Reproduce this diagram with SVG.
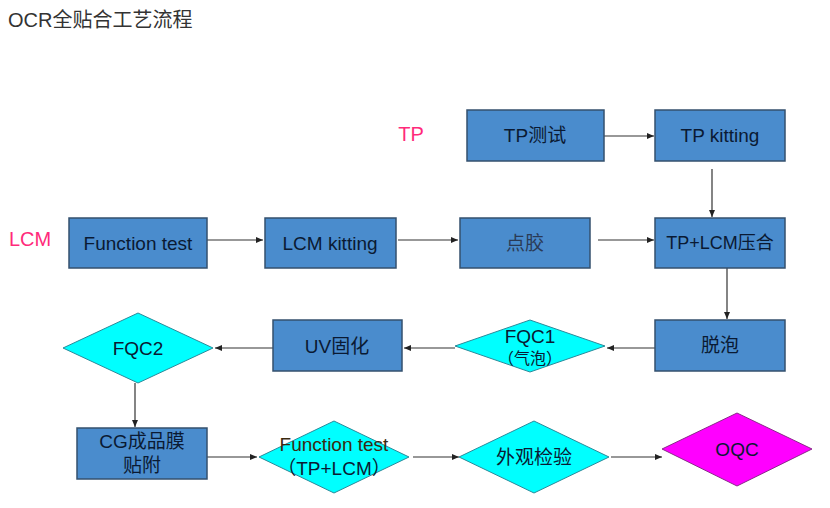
<svg xmlns="http://www.w3.org/2000/svg" width="830" height="508" viewBox="0 0 830 508">
<style>
text{font-family:"Liberation Sans","Noto Sans CJK SC",sans-serif;text-anchor:middle;dominant-baseline:central;fill:#0a1a33;font-size:19px}
.b{fill:#4a8ccd;stroke:#34506e;stroke-width:1.5}
.d{fill:#00ffff;stroke:#2a8a9a;stroke-width:1}
.m{fill:#ff00ff;stroke:#8a2a8a;stroke-width:1}
.c line{stroke:#333;stroke-width:1.2;marker-end:url(#a)}
.lab{fill:#ff2a7a;font-size:20px}
</style>
<defs><marker id="a" markerWidth="8" markerHeight="8" refX="7" refY="4" orient="auto" markerUnits="userSpaceOnUse"><path d="M0,1 L7,4 L0,7z" fill="#222"/></marker></defs>
<rect width="830" height="508" fill="#fff"/>
<text x="8" y="20" style="text-anchor:start;fill:#333;font-size:20px">OCR全贴合工艺流程</text>
<text class="lab" x="411" y="134">TP</text>
<text class="lab" x="30" y="239">LCM</text>
<g class="c">
<line x1="604" y1="136" x2="654" y2="136"/>
<line x1="712" y1="169" x2="712" y2="217"/>
<line x1="207" y1="240" x2="263" y2="240"/>
<line x1="398" y1="240" x2="458" y2="240"/>
<line x1="598" y1="240" x2="654" y2="240"/>
<line x1="727" y1="268" x2="727" y2="319"/>
<line x1="655" y1="348" x2="607" y2="348"/>
<line x1="455" y1="348" x2="404" y2="348"/>
<line x1="273" y1="348" x2="215" y2="348"/>
<line x1="135" y1="383" x2="135" y2="427"/>
<line x1="207" y1="457" x2="257" y2="457"/>
<line x1="413" y1="457" x2="459" y2="457"/>
<line x1="611" y1="457" x2="662" y2="457"/>
</g>
<g id="tptest"><rect class="b" x="467" y="110" width="137" height="51"/><text x="535" y="135">TP测试</text></g>
<g id="tpkit"><rect class="b" x="655" y="110" width="130" height="51"/><text x="720" y="135">TP kitting</text></g>
<g id="ftest"><rect class="b" x="69" y="218" width="138" height="50"/><text x="138" y="243">Function test</text></g>
<g id="lcmkit"><rect class="b" x="265" y="218" width="131" height="50"/><text x="330" y="243">LCM kitting</text></g>
<g id="dj"><rect class="b" x="460" y="218" width="130" height="50"/><text x="525" y="243" style="fill:#2a3a55">点胶</text></g>
<g id="yh"><rect class="b" x="655" y="218" width="130" height="50"/><text x="720" y="243" style="font-size:18px">TP+LCM压合</text></g>
<g id="tp"><rect class="b" x="655" y="320" width="130" height="51"/><text x="720" y="345">脱泡</text></g>
<g id="fqc1"><polygon class="d" points="455,346 530,320 605,346 530,372"/><text x="530" y="336">FQC1</text><text x="530" y="358" style="font-size:16px">（气泡）</text></g>
<g id="uv"><rect class="b" x="273" y="320" width="129" height="51"/><text x="337" y="346">UV固化</text></g>
<g id="fqc2"><polygon class="d" points="63,348 138,313 213,348 138,383"/><text x="138" y="348">FQC2</text></g>
<g id="cg"><rect class="b" x="77" y="428" width="130" height="51"/><text x="142" y="441">CG成品膜</text><text x="142" y="465">贴附</text></g>
<g id="ft2"><polygon class="d" points="259,457 334,421 409,457 334,493"/><text x="334" y="444" style="fill:#3a2a10">Function test</text><text x="334" y="468">（TP+LCM）</text></g>
<g id="wg"><polygon class="d" points="459,457 534,421 609,457 534,493"/><text x="534" y="457">外观检验</text></g>
<g id="oqc"><polygon class="m" points="662,449 737,413 812,449 737,486"/><text x="737" y="449">OQC</text></g>
</svg>
